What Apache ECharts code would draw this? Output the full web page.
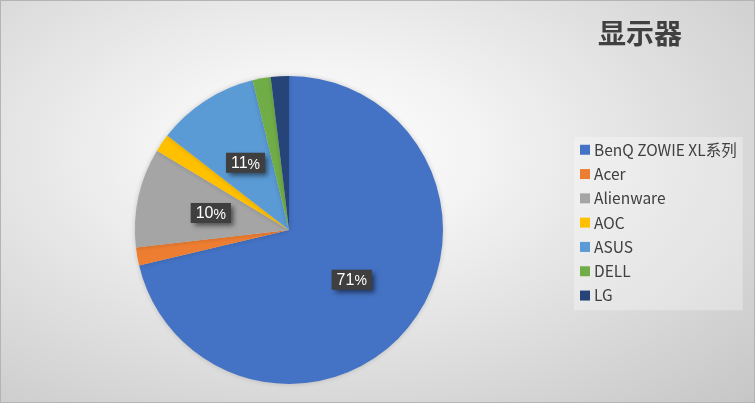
<!DOCTYPE html>
<html>
<head>
<meta charset="utf-8">
<script src="https://cdn.jsdelivr.net/npm/echarts@6/dist/echarts.min.js"></script>
<style>
html,body{margin:0;padding:0;}
#chart{width:755px;height:403px;box-sizing:border-box;border:1px solid #b4b4b4;
background:radial-gradient(ellipse at 42% 38%, #ffffff 0%, #f4f4f4 25%, #c6c6c6 100%);}
</style>
</head>
<body>
<div id="chart"></div>
<script>
const titleText = '显示器';
const categories = ['BenQ ZOWIE XL系列', 'Acer', 'Alienware', 'AOC', 'ASUS', 'DELL', 'LG'];
const values = [71.3, 1.9, 10.4, 1.9, 10.7, 1.9, 1.9];
const colors = ['#4472C4', '#ED7D31', '#A5A5A5', '#FFC000', '#5B9BD5', '#70AD47', '#264478'];

const chart = echarts.init(document.getElementById('chart'), null, {renderer: 'canvas'});
const data = categories.map((c, i) => ({
  name: c,
  value: values[i],
  label: {show: values[i] > 5}
}));
chart.setOption({
  backgroundColor: 'transparent',
  color: colors,
  title: {
    text: titleText,
    left: 592, top: 13,
    textStyle: {fontSize: 28, fontWeight: 'bold', color: '#404040', fontFamily: 'Noto Sans CJK SC'}
  },
  legend: {
    orient: 'vertical',
    left: 573, top: 136,
    padding: [5, 6, 7, 6],
    backgroundColor: 'rgba(255,255,255,0.3)',
    icon: 'rect',
    itemWidth: 10, itemHeight: 10,
    itemGap: 8.8,
    textStyle: {fontSize: 15.5, color: '#404040', fontFamily: 'Noto Sans CJK SC', padding: [0, 0, 0, -1]},
    data: categories
  },
  series: [{
    type: 'pie',
    center: [288, 229],
    radius: 154,
    startAngle: 90,
    clockwise: true,
    avoidLabelOverlap: false,
    itemStyle: {shadowBlur: 5, shadowColor: 'rgba(0,0,0,0.18)'},
    emphasis: {disabled: true},
    label: {
      position: 'inside',
      formatter: p => '{n|' + Math.round(p.percent) + '}{p|%}',
      backgroundColor: '#3f3f3f',
      padding: [2, 5, 1, 5],
      shadowColor: 'rgba(0,0,0,0.55)',
      shadowBlur: 5,
      shadowOffsetX: 3,
      shadowOffsetY: 3,
      rich: {
        n: {fontSize: 16, color: '#ffffff', fontFamily: 'Liberation Sans', lineHeight: 17},
        p: {fontSize: 14, color: '#ffffff', fontFamily: 'Liberation Sans Narrow, Liberation Sans', lineHeight: 17, verticalAlign: 'bottom'}
      }
    },
    labelLine: {show: false},
    data: data
  }]
});
</script>
</body>
</html>
